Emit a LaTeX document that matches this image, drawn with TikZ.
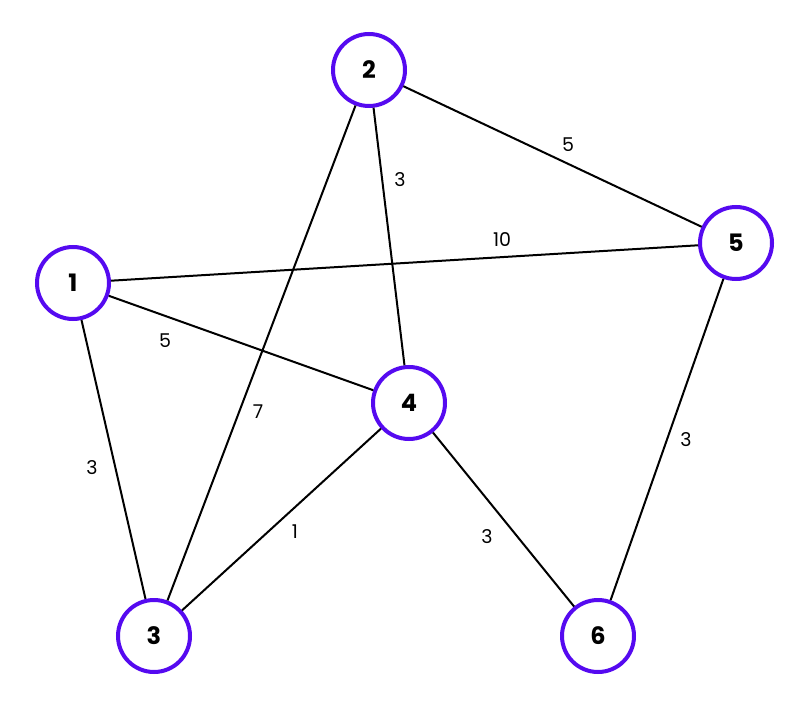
\documentclass[tikz,border=0pt]{standalone}
\usepackage{fontspec}
\setmainfont{Poppins}
\definecolor{nodeblue}{RGB}{85,10,240}
\begin{document}
\begin{tikzpicture}[x=1pt,y=-1pt,
  vert/.style={circle,draw=nodeblue,line width=4pt,fill=white,minimum size=72pt,inner sep=0pt,font=\fontsize{24}{24}\selectfont\bfseries},
  edge/.style={line width=2pt,black},
  lab/.style={font=\fontsize{19}{19}\selectfont,inner sep=0pt}]
\useasboundingbox (0,0) rectangle (800,711);
\node[vert] (n1) at (73,283) {1};
\node[vert] (n2) at (369,70) {2};
\node[vert] (n3) at (154,636) {3};
\node[vert] (n4) at (409,403) {4};
\node[vert] (n5) at (736,243) {5};
\node[vert] (n6) at (598,636) {6};
\begin{scope}[on background layer/.style={}]
\end{scope}
\draw[edge] (n2) -- (n5);
\draw[edge] (n1) -- (n5);
\draw[edge] (n2) -- (n4);
\draw[edge] (n1) -- (n4);
\draw[edge] (n2) -- (n3);
\draw[edge] (n1) -- (n3);
\draw[edge] (n3) -- (n4);
\draw[edge] (n4) -- (n6);
\draw[edge] (n5) -- (n6);
\node[lab] (l25) at (568,145) {5};
\node[lab] (l15) at (502,240) {10};
\node[lab] (l24) at (400,180) {3};
\node[lab] (l14) at (165,341) {5};
\node[lab] (l23) at (258,412) {7};
\node[lab] (l13) at (92,468) {3};
\node[lab] (l34) at (295,532) {1};
\node[lab] (l46) at (487,537) {3};
\node[lab] (l56) at (686,440) {3};
\end{tikzpicture}
\end{document}
